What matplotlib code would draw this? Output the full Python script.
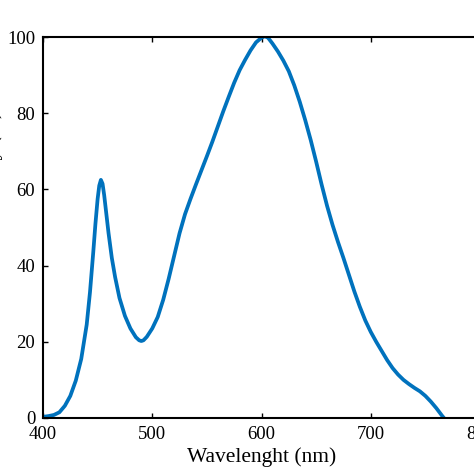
import matplotlib
matplotlib.use("Agg")
import matplotlib.pyplot as plt

wavelength = [400, 405, 410, 415, 420, 425, 430, 435, 440, 443, 446, 448, 450, 451.5, 453, 454.5,
              456, 458, 460, 463, 466, 470, 475, 480, 485, 488, 490, 492, 495, 500, 505, 510,
              515, 520, 525, 530, 535, 540, 545, 550, 555, 560, 565, 570, 575, 580, 585, 590,
              595, 600, 603, 606, 610, 615, 620, 625, 630, 635, 640, 645, 650, 655, 660, 665,
              670, 675, 680, 685, 690, 695, 700, 705, 710, 715, 720, 725, 730, 735, 740, 745,
              750, 755, 760, 765, 767]
intensity = [0.3, 0.5, 0.8, 1.5, 3.2, 5.8, 9.8, 15.5, 24.5, 33.0, 43.5, 51.0, 57.5, 61.0, 62.5, 61.5,
             58.5, 53.5, 48.5, 42.0, 37.0, 31.5, 26.8, 23.5, 21.2, 20.4, 20.2, 20.4, 21.3, 23.5, 26.5, 31.0,
             36.5, 42.5, 48.5, 53.5, 57.5, 61.3, 65.0, 68.7, 72.5, 76.5, 80.5, 84.3, 88.0, 91.3, 94.0, 96.5,
             98.6, 99.8, 100.2, 99.8, 98.3, 96.2, 93.8, 91.0, 87.3, 83.0, 78.2, 73.0, 67.3, 61.3, 55.7, 50.7,
             46.2, 42.0, 37.6, 33.2, 29.2, 25.6, 22.6, 20.0, 17.6, 15.2, 13.1, 11.4, 10.0, 8.9, 7.9, 7.0,
             5.8, 4.3, 2.6, 0.7, 0.0]
xticks = [400, 500, 600, 700, 800]
yticks = [0, 20, 40, 60, 80, 100]

plt.rcParams['font.family'] = ['Liberation Serif', 'DejaVu Serif']

fig = plt.figure(figsize=(4.74, 4.74), dpi=100)
ax = fig.add_axes([43/474, 1-418/474, 437/474, 381/474])
ax.plot(wavelength, intensity, color='#0072BD', lw=2.7,
        solid_capstyle='round', solid_joinstyle='round')
ax.set_xlim(400, 800)
ax.set_ylim(0, 100)
ax.set_xticks(xticks)
ax.set_yticks(yticks)
ax.tick_params(direction='in', length=3.5, width=1, labelsize=13.5, top=True, right=True, pad=5.5)
for s in ax.spines.values():
    s.set_linewidth(1.5)
ax.set_xlabel('Wavelenght (nm)', fontsize=15.5, labelpad=3)
ax.set_ylabel('Relative intensity (%)', fontsize=15.5)
ax.yaxis.set_label_coords(-0.0915, 0.559)
fig.savefig('out.png', dpi=100)
